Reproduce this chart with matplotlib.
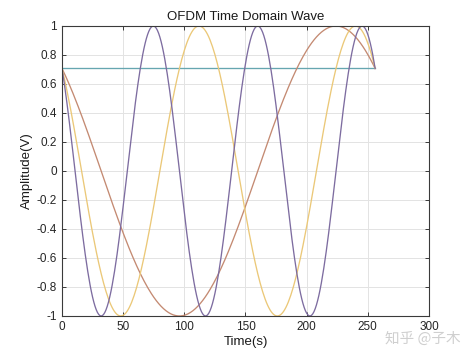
import numpy as np
import matplotlib
matplotlib.use("Agg")
import matplotlib.pyplot as plt

# Data: OFDM subcarriers (cycles over the symbol), symbol phase, length
n_samples = 256
subcarriers = [0, 1, 2, 3]          # cycles per symbol for each curve
symbol_phase_deg = 45               # all curves start at 0.707
line_colors = ["#66a6b0", "#c48a72", "#ebc878", "#7d6ca0"]

x_ticks = [0, 50, 100, 150, 200, 250, 300]
y_ticks = [-1, -0.8, -0.6, -0.4, -0.2, 0, 0.2, 0.4, 0.6, 0.8, 1]
y_labels = ["-1", "-0.8", "-0.6", "-0.4", "-0.2", "0", "0.2", "0.4", "0.6", "0.8", "1"]

plt.rcParams['font.family'] = ['Liberation Sans', 'DejaVu Sans']

fig = plt.figure(figsize=(4.74, 3.55), dpi=100)
ax = fig.add_axes([0.1308, 0.1099, 0.905 - 0.1308, 0.9268 - 0.1099])

t = np.arange(n_samples + 1)
phi = np.deg2rad(symbol_phase_deg)
for k, c in zip(subcarriers, line_colors):
    y = np.cos(2 * np.pi * k * t / n_samples + phi)
    ax.plot(t, y, color=c, lw=0.95)

ax.set_xlim(0, 300)
ax.set_ylim(-1, 1)
ax.set_xticks(x_ticks)
ax.set_yticks(y_ticks)
ax.set_yticklabels(y_labels)
ax.grid(True, color="#e3e3e3", lw=0.7)
ax.set_axisbelow(True)
for s in ax.spines.values():
    s.set_color("#3a3a3a")
    s.set_linewidth(0.8)
ax.tick_params(direction="in", length=3, width=0.7, colors="#3a3a3a",
               labelcolor="#262626", labelsize=8.5, top=True, right=True,
               labeltop=False, labelright=False)
ax.set_title("OFDM Time Domain Wave", fontsize=9.5, color="#1a1a1a", pad=4)
ax.set_xlabel("Time(s)", fontsize=9.5, color="#1a1a1a", labelpad=2)
ax.set_ylabel("Amplitude(V)", fontsize=9.5, color="#1a1a1a", labelpad=3)

fig.text(0.893, 0.045, "知乎 @子木", fontsize=10.5, color="#cfcfcf",
         ha="center", va="center", family=['Noto Sans CJK SC', 'DejaVu Sans'])

fig.savefig("out.png", dpi=100)
